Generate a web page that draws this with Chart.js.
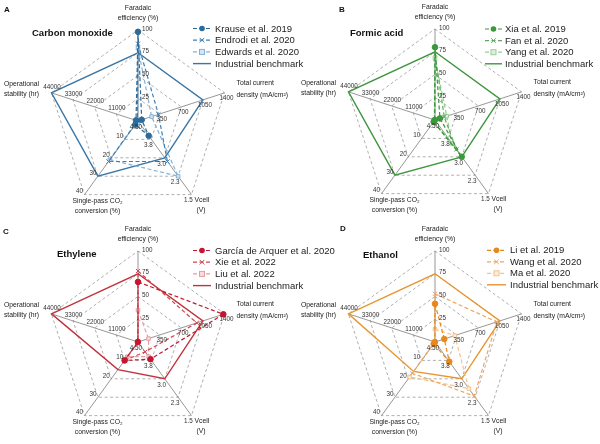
<!DOCTYPE html>
<html><head><meta charset="utf-8">
<script src="https://cdn.jsdelivr.net/npm/chart.js@4/dist/chart.umd.min.js"></script>
<style>
html,body{margin:0;padding:0;background:#fff;}
#wrap{position:relative;width:600px;height:444px;overflow:hidden;background:#fff;}
canvas{position:absolute;left:0;top:0;}
</style></head><body><div id="wrap">
<canvas id="cA" width="600" height="444"></canvas>
<canvas id="cB" width="600" height="444"></canvas>
<canvas id="cC" width="600" height="444"></canvas>
<canvas id="cD" width="600" height="444"></canvas>
</div>
<script>
// ---- axes (order: top, then clockwise) ----
const axisNames = ['Faradaic efficiency (%)', 'Total current density (mA/cm²)', 'Vcell (V)', 'Single-pass CO₂ conversion (%)', 'Operational stability (hr)'];
const feTicks = ['25', '50', '75', '100'];
const currentTicks = ['350', '700', '1050', '1400'];
const vcellTicks = ['3.8', '3.0', '2.3', '1.5'];
const convTicks = ['10', '20', '30', '40'];
const stabTicks = ['11000', '22000', '33000', '44000'];
const vcellCenterTick = '4.5';
const zeroTick = '0';

// ---- series values: [FE %, current mA/cm2, Vcell V, conversion %, stability hr] ----
const coNames = ['Krause et al. 2019', 'Endrodi et al. 2020', 'Edwards et al. 2020', 'Industrial benchmark'];
const coKrause = [98, 60, 3.9, 2, 1000];
const coEndrodi = [85, 330, 2.85, 22, 300];
const coEdwards = [80, 220, 2.25, 21, 100];
const coBenchmark = [75, 1050, 3.0, 30, 44000];

const faNames = ['Xia et al. 2019', 'Fan et al. 2020', 'Yang et al. 2020', 'Industrial benchmark'];
const faXia = [80, 80, 3.0, 1, 100];
const faFan = [72, 150, 3.3, 1, 300];
const faYang = [67, 190, 3.55, 1, 100];
const faBenchmark = [75, 1050, 3.0, 30, 44000];

const etNames = ['García de Arquer et al. 2020', 'Xie et al. 2022', 'Liu et al. 2022', 'Industrial benchmark'];
const etGarcia = [66, 1380, 3.8, 10, 50];
const etXie = [78, 950, 4.1, 10, 20];
const etLiu = [35, 170, 3.9, 8, 10];
const etBenchmark = [75, 1050, 3.0, 15, 44000];

const eoNames = ['Li et al. 2019', 'Wang et al. 2020', 'Ma et al. 2020', 'Industrial benchmark'];
const eoLi = [42, 150, 3.7, 1, 50];
const eoWang = [53, 1000, 2.3, 17, 100];
const eoMa = [14, 320, 2.6, 19, 100];
const eoBenchmark = [75, 1050, 3.0, 16, 44000];

// map each axis onto the common 0..4 ring scale
function norm(v) {
  return [v[0] / 25, v[1] / 350, (4.5 - v[2]) / 0.75, v[3] / 10, v[4] / 11000];
}

const FONT = '"Liberation Sans", Arial, sans-serif';
const R = 91.5;

function drawMarker(ctx, style, x, y, color, fillc) {
  ctx.save();
  ctx.setLineDash([]);
  ctx.strokeStyle = color; ctx.lineWidth = 1;
  if (style === 'circle') {
    ctx.fillStyle = color; ctx.beginPath(); ctx.arc(x, y, 2.8, 0, Math.PI * 2); ctx.fill();
  } else if (style === 'crossRot') {
    const d = 2.3; ctx.beginPath();
    ctx.moveTo(x - d, y - d); ctx.lineTo(x + d, y + d); ctx.moveTo(x + d, y - d); ctx.lineTo(x - d, y + d); ctx.stroke();
  } else if (style === 'rect') {
    ctx.fillStyle = fillc; ctx.fillRect(x - 2.5, y - 2.5, 5, 5); ctx.strokeRect(x - 2.5, y - 2.5, 5, 5);
  }
  ctx.restore();
}

const decorPlugin = {
  id: 'decor',
  afterDraw(chart, args, o) {
    const ctx = chart.ctx, sc = chart.scales.r;
    const P = (i, k) => sc.getPointPosition(i, sc.getDistanceFromCenterForValue(k));
    ctx.save();
    ctx.fillStyle = '#333';
    // tick labels
    ctx.font = '6.3px ' + FONT; ctx.textBaseline = 'middle';
    const lists = [feTicks, currentTicks, vcellTicks, convTicks, stabTicks];
    const offs = [[4, -1, 'left'], [2, 5.5, 'center'], [-3, 6, 'center'], [-5, -3, 'center'], [0.5, -6, 'center']];
    lists.forEach((lst, i) => {
      lst.forEach((t, k) => {
        const p = P(i, k + 1);
        ctx.textAlign = offs[i][2];
        ctx.fillText(t, p.x + offs[i][0], p.y + offs[i][1]);
      });
    });
    const c = P(0, 0);
    ctx.textAlign = 'right'; ctx.fillText(vcellCenterTick, c.x + 0.5, c.y + 6);
    ctx.textAlign = 'left'; ctx.fillText(zeroTick, c.x + 0.5, c.y + 6);
    // axis titles
    ctx.fillStyle = '#222';
    ctx.font = '6.8px ' + FONT;
    const ttl = [
      [['Faradaic', 'efficiency (%)'], 0, -21.5, 9.5, 'center'],
      [['Total current', 'density (mA/cm²)'], 12, -9.7, 12, 'left'],
      [['Vcell', '(V)'], 3, 5, 10, 'left'],
      [['Single-pass CO₂', 'conversion (%)'], 13, 6.7, 10, 'center'],
      [['Operational', 'stability (hr)'], -30, -8.7, 10, 'center']
    ];
    ttl.forEach((t, i) => {
      const p = P(i, 4);
      ctx.textAlign = t[4];
      t[0].forEach((line, j) => ctx.fillText(line, p.x + t[1] + (i === 2 && j === 1 ? 2 : 0), p.y + t[2] + j * t[3]));
    });
    // panel letter and title
    ctx.fillStyle = '#111';
    ctx.textAlign = 'left';
    ctx.font = 'bold 8px ' + FONT;
    ctx.fillText(o.letter, o.letterX, o.letterY);
    ctx.font = 'bold 9.5px ' + FONT;
    ctx.fillText(o.title, o.titleX, o.titleY);
    // legend
    const lg = o.legend;
    o.series.forEach((s, j) => {
      const y = lg.y0 + j * lg.dy;
      ctx.save();
      ctx.strokeStyle = s.color; ctx.lineWidth = s.w;
      ctx.setLineDash(s.dash || []);
      ctx.beginPath(); ctx.moveTo(lg.x0, y); ctx.lineTo(lg.x1, y); ctx.stroke();
      ctx.restore();
      if (s.style) drawMarker(ctx, s.style, (lg.x0 + lg.x1) / 2, y, s.color, s.pfill || s.color);
      ctx.fillStyle = '#222'; ctx.font = '9.5px ' + FONT; ctx.textAlign = 'left';
      ctx.fillText(s.label, lg.tx, y + 0.5);
    });
    ctx.restore();
  }
};

function makeChart(id, cfg) {
  new Chart(document.getElementById(id), {
    type: 'radar',
    data: {
      labels: axisNames,
      datasets: cfg.series.map(s => ({
        label: s.label, data: norm(s.values),
        borderColor: s.color, backgroundColor: s.pfill || s.color,
        pointBackgroundColor: s.pfill || s.color, pointBorderColor: s.color,
        pointStyle: s.style || 'circle', pointRadius: s.style ? s.r : 0, pointBorderWidth: 1,
        borderWidth: s.w, borderDash: s.dash || [], fill: false, tension: 0, clip: false
      }))
    },
    options: {
      responsive: false, animation: false, events: [],
      layout: { padding: { left: cfg.cx - R, right: 600 - cfg.cx - R, top: cfg.cy - R, bottom: 444 - cfg.cy - R } },
      plugins: { legend: { display: false }, tooltip: { enabled: false }, decor: cfg },
      scales: {
        r: {
          min: 0, max: 4,
          ticks: { display: false, stepSize: 1 },
          pointLabels: { display: false },
          grid: { color: '#a6a6a6', lineWidth: 0.9, circular: false, borderDash: [3, 2.5] },
          border: { dash: [3, 2.5] },
          angleLines: { color: '#7c7c7c', lineWidth: 0.8, borderDash: [] }
        }
      }
    },
    plugins: [decorPlugin]
  });
}

const DASH = [4, 2.5];
function mk(names, vals, cols, fills) {
  const styles = ['circle', 'crossRot', 'rect', false];
  const radii = [2.8, 3, 2.5, 0];
  return names.map((n, i) => ({
    label: n, values: vals[i], color: cols[i], pfill: fills[i], style: styles[i], r: radii[i],
    w: i === 3 ? 1.4 : 1.2, dash: i === 3 ? [] : DASH
  }));
}

makeChart('cA', {
  cx: 138, cy: 121, letter: 'A', letterX: 4, letterY: 10, title: 'Carbon monoxide', titleX: 32, titleY: 33,
  legend: { x0: 193, x1: 211, tx: 215, y0: 28.5, dy: 11.7 },
  series: mk(coNames, [coKrause, coEndrodi, coEdwards, coBenchmark],
    ['#2c6a99', '#3f7fb2', '#86b1d6', '#3a77a7'], ['#2c6a99', '#3f7fb2', '#d6e6f3', '#3a77a7'])
});
makeChart('cB', {
  cx: 435, cy: 120, letter: 'B', letterX: 339, letterY: 10, title: 'Formic acid', titleX: 350, titleY: 33,
  legend: { x0: 485, x1: 502, tx: 505, y0: 29, dy: 11.6 },
  series: mk(faNames, [faXia, faFan, faYang, faBenchmark],
    ['#3b993b', '#5aac5a', '#98cd98', '#3e963e'], ['#3b993b', '#5aac5a', '#dff0df', '#3e963e'])
});
makeChart('cC', {
  cx: 138, cy: 342, letter: 'C', letterX: 3, letterY: 232, title: 'Ethylene', titleX: 57, titleY: 254,
  legend: { x0: 193, x1: 211, tx: 215, y0: 250.5, dy: 11.7 },
  series: mk(etNames, [etGarcia, etXie, etLiu, etBenchmark],
    ['#c5152f', '#d3454f', '#e79da4', '#c2323b'], ['#c5152f', '#d3454f', '#f6dde0', '#c2323b'])
});
makeChart('cD', {
  cx: 435, cy: 342, letter: 'D', letterX: 340, letterY: 229, title: 'Ethanol', titleX: 363, titleY: 255,
  legend: { x0: 487, x1: 506, tx: 510, y0: 250.3, dy: 11.5 },
  series: mk(eoNames, [eoLi, eoWang, eoMa, eoBenchmark],
    ['#e8881c', '#eea560', '#f3c48e', '#e7952f'], ['#e8881c', '#eea560', '#fcecd9', '#e7952f'])
});
</script>
</body></html>
